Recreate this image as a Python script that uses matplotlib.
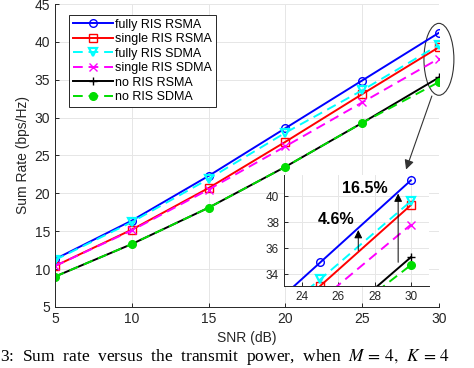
import numpy as np
import matplotlib
matplotlib.use('Agg')
import matplotlib.pyplot as plt
from matplotlib.patches import Ellipse

plt.rcParams['font.family'] = ['Liberation Sans', 'DejaVu Sans']
plt.rcParams['mathtext.fontset'] = 'stix'

# ── data ──────────────────────────────────────────────────────────────
snr = [5, 10, 15, 20, 25, 30]
fully_rsma = [11.3, 16.4, 22.3, 28.6, 34.9, 41.2]
single_rsma = [10.4, 15.2, 20.7, 26.8, 33.1, 39.3]
fully_sdma = [11.2, 16.2, 21.9, 28.0, 33.6, 39.6]
single_sdma = [10.4, 15.1, 20.5, 26.2, 32.0, 37.8]
none_rsma = [9.0, 13.3, 18.1, 23.5, 29.3, 35.3]
none_sdma = [9.0, 13.3, 18.1, 23.5, 29.3, 34.7]

series = [
    ('fully RIS RSMA', fully_rsma, dict(color='#0000ff', ls='-', marker='o', mfc='none')),
    ('single RIS RSMA', single_rsma, dict(color='#ff0000', ls='-', marker='s', mfc='none')),
    ('fully RIS SDMA', fully_sdma, dict(color='#00ffff', ls=(0, (5, 3)), marker='v', mfc='none', mew=1.6)),
    ('single RIS SDMA', single_sdma, dict(color='#ff00ff', ls=(0, (5, 3)), marker='x')),
    ('no RIS RSMA', none_rsma, dict(color='black', ls='-', marker='+')),
    ('no RIS SDMA', none_sdma, dict(color='#00dd00', ls=(0, (5, 3)), marker='o', mfc='#00dd00')),
]

fig = plt.figure(figsize=(4.74, 3.68), dpi=100)
ax = fig.add_axes([0.116, 0.166, 0.81, 0.823])


def style(a, fs):
    for s in ['top', 'right']:
        a.spines[s].set_visible(False)
    for s in ['left', 'bottom']:
        a.spines[s].set_color('#262626')
        a.spines[s].set_linewidth(0.7)
    a.grid(True, color='#e6e6e6', linewidth=0.7)
    a.set_axisbelow(True)
    a.tick_params(direction='in', length=3, width=0.7, labelsize=fs,
                  colors='#262626')


for label, y, kw in series:
    ax.plot(snr, y, label=label, lw=1.4, ms=5.5, **kw)

ax.set_xlim(5, 30)
ax.set_ylim(5, 45)
ax.set_xticks([5, 10, 15, 20, 25, 30])
ax.set_yticks(np.arange(5, 46, 5))
style(ax, 10)
ax.set_xlabel('SNR (dB)', fontsize=10, color='#262626', labelpad=4)
ax.set_ylabel('Sum Rate (bps/Hz)', fontsize=10, color='#262626', labelpad=3)

leg = ax.legend(loc='upper left', bbox_to_anchor=(0.02, 0.985), fontsize=9,
                handlelength=3.2, handletextpad=0.2, borderpad=0.3,
                labelspacing=0.2, fancybox=False, framealpha=1)
leg.get_frame().set_edgecolor('#262626')
leg.get_frame().set_linewidth(0.7)

# ellipse around the SNR = 30 points
ell = Ellipse((30, 37.7), 1.95, 9.5, fill=False, edgecolor='#333333',
              lw=0.8, clip_on=False)
ax.add_patch(ell)
ax.annotate('', xy=(27.8, 22.8), xytext=(29.6, 33.2),
            arrowprops=dict(arrowstyle='-|>', color='#333333', lw=0.8,
                            mutation_scale=14), annotation_clip=False)

# ── inset ────────────────────────────────────────────────────────────
ins = fig.add_axes([0.599, 0.223, 0.306, 0.301])
for label, y, kw in series:
    ins.plot(snr, y, lw=1.4, ms=5.5, clip_on=True, **kw)
ins.set_xlim(23, 31)
ins.set_ylim(33.1, 41.6)
ins.set_xticks([24, 26, 28, 30])
ins.set_yticks([34, 36, 38, 40])
style(ins, 8.5)
ins.patch.set_facecolor('white')

ins.annotate('', xy=(27.1, 37.6), xytext=(27.1, 35.6),
             arrowprops=dict(arrowstyle='-|>', color='black', lw=0.7,
                             mutation_scale=12))
ins.annotate('', xy=(29.3, 40.4), xytext=(29.3, 34.7),
             arrowprops=dict(arrowstyle='-|>', color='black', lw=0.7,
                             mutation_scale=12))
ins.text(25.85, 38.2, '4.6%', fontsize=11.5, fontweight='bold', ha='center', va='center')
ins.text(27.45, 40.6, '16.5%', fontsize=11.5, fontweight='bold', ha='center', va='center')

caption = '3:  Sum  rate  versus  the  transmit  power,  when  $M\\,=\\,4,\\;\\;K\\,=\\,4$'
fig.text(0.0, 0.002, caption, fontsize=12.5,
         family=['Liberation Serif', 'DejaVu Serif'], ha='left', va='bottom')

fig.savefig('out.png', dpi=100)
